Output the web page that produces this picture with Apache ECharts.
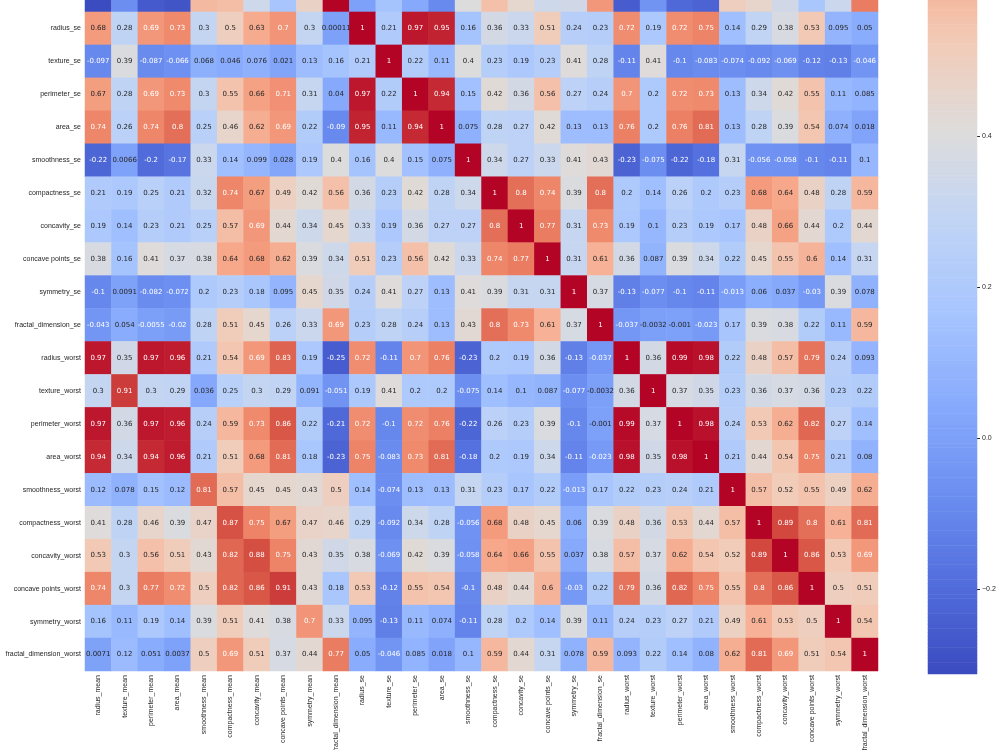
<!DOCTYPE html>
<html>
<head>
<meta charset="utf-8">
<script src="https://cdn.jsdelivr.net/npm/echarts@6/dist/echarts.min.js"></script>
<style>html,body{margin:0;background:#fff}#chart{width:1000px;height:750px}</style>
</head>
<body>
<div id="chart"></div>
<script>
var columns = ['radius_mean','texture_mean','perimeter_mean','area_mean','smoothness_mean','compactness_mean','concavity_mean','concave points_mean','symmetry_mean','fractal_dimension_mean',
  'radius_se','texture_se','perimeter_se','area_se','smoothness_se','compactness_se','concavity_se','concave points_se','symmetry_se','fractal_dimension_se',
  'radius_worst','texture_worst','perimeter_worst','area_worst','smoothness_worst','compactness_worst','concavity_worst','concave points_worst','symmetry_worst','fractal_dimension_worst'];
// visible rows (first one is cut off by the top edge)
var rows = columns.slice(9);

var matrix = [
  [-0.31,-0.076,-0.26,-0.28,0.58,0.57,0.34,0.17,0.48,1, 0.00011,0.16,0.04,-0.09,0.4,0.56,0.45,0.34,0.35,0.69, -0.25,-0.051,-0.21,-0.23,0.5,0.46,0.35,0.18,0.33,0.77],
  [0.68,0.28,0.69,0.73,0.3,0.5,0.63,0.7,0.3,0.00011, 1,0.21,0.97,0.95,0.16,0.36,0.33,0.51,0.24,0.23, 0.72,0.19,0.72,0.75,0.14,0.29,0.38,0.53,0.095,0.05],
  [-0.097,0.39,-0.087,-0.066,0.068,0.046,0.076,0.021,0.13,0.16, 0.21,1,0.22,0.11,0.4,0.23,0.19,0.23,0.41,0.28, -0.11,0.41,-0.1,-0.083,-0.074,-0.092,-0.069,-0.12,-0.13,-0.046],
  [0.67,0.28,0.69,0.73,0.3,0.55,0.66,0.71,0.31,0.04, 0.97,0.22,1,0.94,0.15,0.42,0.36,0.56,0.27,0.24, 0.7,0.2,0.72,0.73,0.13,0.34,0.42,0.55,0.11,0.085],
  [0.74,0.26,0.74,0.8,0.25,0.46,0.62,0.69,0.22,-0.09, 0.95,0.11,0.94,1,0.075,0.28,0.27,0.42,0.13,0.13, 0.76,0.2,0.76,0.81,0.13,0.28,0.39,0.54,0.074,0.018],
  [-0.22,0.0066,-0.2,-0.17,0.33,0.14,0.099,0.028,0.19,0.4, 0.16,0.4,0.15,0.075,1,0.34,0.27,0.33,0.41,0.43, -0.23,-0.075,-0.22,-0.18,0.31,-0.056,-0.058,-0.1,-0.11,0.1],
  [0.21,0.19,0.25,0.21,0.32,0.74,0.67,0.49,0.42,0.56, 0.36,0.23,0.42,0.28,0.34,1,0.8,0.74,0.39,0.8, 0.2,0.14,0.26,0.2,0.23,0.68,0.64,0.48,0.28,0.59],
  [0.19,0.14,0.23,0.21,0.25,0.57,0.69,0.44,0.34,0.45, 0.33,0.19,0.36,0.27,0.27,0.8,1,0.77,0.31,0.73, 0.19,0.1,0.23,0.19,0.17,0.48,0.66,0.44,0.2,0.44],
  [0.38,0.16,0.41,0.37,0.38,0.64,0.68,0.62,0.39,0.34, 0.51,0.23,0.56,0.42,0.33,0.74,0.77,1,0.31,0.61, 0.36,0.087,0.39,0.34,0.22,0.45,0.55,0.6,0.14,0.31],
  [-0.1,0.0091,-0.082,-0.072,0.2,0.23,0.18,0.095,0.45,0.35, 0.24,0.41,0.27,0.13,0.41,0.39,0.31,0.31,1,0.37, -0.13,-0.077,-0.1,-0.11,-0.013,0.06,0.037,-0.03,0.39,0.078],
  [-0.043,0.054,-0.0055,-0.02,0.28,0.51,0.45,0.26,0.33,0.69, 0.23,0.28,0.24,0.13,0.43,0.8,0.73,0.61,0.37,1, -0.037,-0.0032,-0.001,-0.023,0.17,0.39,0.38,0.22,0.11,0.59],
  [0.97,0.35,0.97,0.96,0.21,0.54,0.69,0.83,0.19,-0.25, 0.72,-0.11,0.7,0.76,-0.23,0.2,0.19,0.36,-0.13,-0.037, 1,0.36,0.99,0.98,0.22,0.48,0.57,0.79,0.24,0.093],
  [0.3,0.91,0.3,0.29,0.036,0.25,0.3,0.29,0.091,-0.051, 0.19,0.41,0.2,0.2,-0.075,0.14,0.1,0.087,-0.077,-0.0032, 0.36,1,0.37,0.35,0.23,0.36,0.37,0.36,0.23,0.22],
  [0.97,0.36,0.97,0.96,0.24,0.59,0.73,0.86,0.22,-0.21, 0.72,-0.1,0.72,0.76,-0.22,0.26,0.23,0.39,-0.1,-0.001, 0.99,0.37,1,0.98,0.24,0.53,0.62,0.82,0.27,0.14],
  [0.94,0.34,0.94,0.96,0.21,0.51,0.68,0.81,0.18,-0.23, 0.75,-0.083,0.73,0.81,-0.18,0.2,0.19,0.34,-0.11,-0.023, 0.98,0.35,0.98,1,0.21,0.44,0.54,0.75,0.21,0.08],
  [0.12,0.078,0.15,0.12,0.81,0.57,0.45,0.45,0.43,0.5, 0.14,-0.074,0.13,0.13,0.31,0.23,0.17,0.22,-0.013,0.17, 0.22,0.23,0.24,0.21,1,0.57,0.52,0.55,0.49,0.62],
  [0.41,0.28,0.46,0.39,0.47,0.87,0.75,0.67,0.47,0.46, 0.29,-0.092,0.34,0.28,-0.056,0.68,0.48,0.45,0.06,0.39, 0.48,0.36,0.53,0.44,0.57,1,0.89,0.8,0.61,0.81],
  [0.53,0.3,0.56,0.51,0.43,0.82,0.88,0.75,0.43,0.35, 0.38,-0.069,0.42,0.39,-0.058,0.64,0.66,0.55,0.037,0.38, 0.57,0.37,0.62,0.54,0.52,0.89,1,0.86,0.53,0.69],
  [0.74,0.3,0.77,0.72,0.5,0.82,0.86,0.91,0.43,0.18, 0.53,-0.12,0.55,0.54,-0.1,0.48,0.44,0.6,-0.03,0.22, 0.79,0.36,0.82,0.75,0.55,0.8,0.86,1,0.5,0.51],
  [0.16,0.11,0.19,0.14,0.39,0.51,0.41,0.38,0.7,0.33, 0.095,-0.13,0.11,0.074,-0.11,0.28,0.2,0.14,0.39,0.11, 0.24,0.23,0.27,0.21,0.49,0.61,0.53,0.5,1,0.54],
  [0.0071,0.12,0.051,0.0037,0.5,0.69,0.51,0.37,0.44,0.77, 0.05,-0.046,0.085,0.018,0.1,0.59,0.44,0.31,0.078,0.59, 0.093,0.22,0.14,0.08,0.62,0.81,0.69,0.51,0.54,1]
];

var vmin = -0.31, vmax = 1;
var colorbarTicks = [-0.2, 0, 0.2, 0.4, 0.6, 0.8, 1];
var coolwarm = ['#3b4cc0','#536edd','#6c8ff1','#88abfd','#a7c5fe','#c0d4f5','#dddcdc','#f2cbb7','#f7a789','#ec7f63','#d44e41','#b40426'];

var cells = [];
matrix.forEach(function (row, r) {
  row.forEach(function (v, c) {
    cells.push({
      value: [c, r, v],
      label: { color: (v > 0.685 || v < -0.005) ? '#ffffff' : '#262626' }
    });
  });
});

// colour bar strip
var steps = [], barCells = [];
for (var i = 0; i <= 262; i++) {
  var s = vmin + i * (vmax - vmin) / 262;
  steps.push(i);
  barCells.push([0, i, s]);
}

var axisFont = { fontSize: 7, color: '#262626', fontFamily: 'Liberation Sans' };

var chart = echarts.init(document.getElementById('chart'), null, { renderer: 'canvas' });
chart.setOption({
  animation: false,
  textStyle: { fontFamily: 'DejaVu Sans' },
  grid: [
    { left: 85, top: -21, width: 793, height: 692, outerBoundsMode: 'none', containLabel: false },
    { left: 928, top: -317, width: 49, height: 989, outerBoundsMode: 'none', containLabel: false }
  ],
  xAxis: [
    { type: 'category', data: columns, gridIndex: 0, position: 'bottom',
      axisLine: { show: false }, axisTick: { length: 3, lineStyle: { color: '#262626' } },
      axisLabel: Object.assign({ rotate: 90, interval: 0, margin: 4 }, axisFont),
      splitArea: { show: false } },
    { type: 'category', data: [''], gridIndex: 1, show: false }
  ],
  yAxis: [
    { type: 'category', data: rows, gridIndex: 0, inverse: true,
      axisLine: { show: false }, axisTick: { length: 3, lineStyle: { color: '#262626' } },
      axisLabel: Object.assign({ interval: 0, margin: 4 }, axisFont) },
    { type: 'category', data: steps, gridIndex: 1, show: false, boundaryGap: false },
    { type: 'value', gridIndex: 1, min: vmin, max: vmax, position: 'right',
      splitLine: { show: false }, axisLine: { show: false },
      axisTick: { show: true, length: 3, customValues: colorbarTicks, lineStyle: { color: '#262626' } },
      axisLabel: Object.assign({ margin: 5, customValues: colorbarTicks,
        formatter: function (v) { return v < 0 ? '\u2212' + Math.abs(v).toFixed(1) : v.toFixed(1); } }, axisFont) }
  ],
  visualMap: {
    show: false, min: vmin, max: vmax, dimension: 2, seriesIndex: [0, 1],
    inRange: { color: coolwarm }
  },
  series: [
    { type: 'heatmap', data: cells, xAxisIndex: 0, yAxisIndex: 0,
      label: { show: true, fontSize: 7,
        formatter: function (p) { return String(p.value[2]); } } },
    { type: 'heatmap', data: barCells, xAxisIndex: 1, yAxisIndex: 1, silent: true }
  ]
});
</script>
</body>
</html>
